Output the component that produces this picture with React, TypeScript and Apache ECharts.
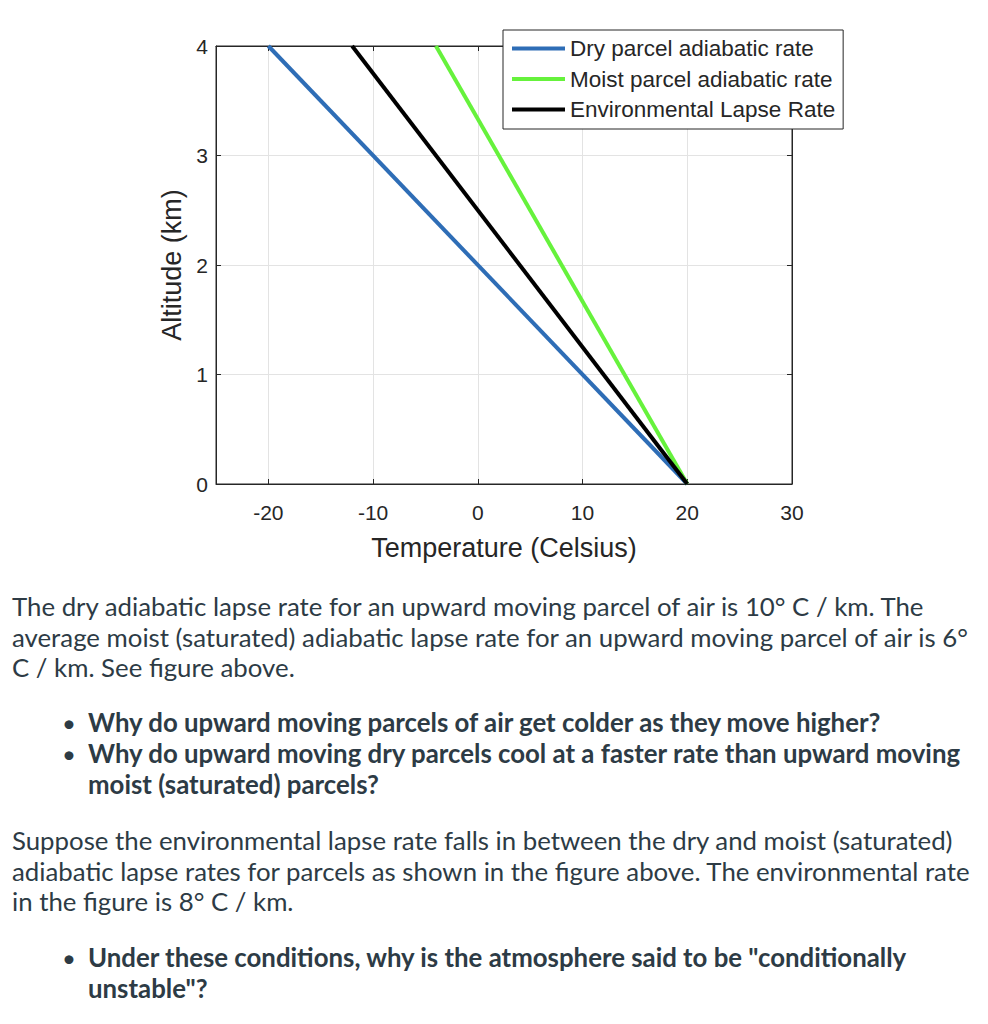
import React, { useEffect, useRef } from "react";
import * as echarts from "echarts";

const altitudesKm = [0, 4];
const dryTemps = [20, -20];
const moistTemps = [20, -4];
const envTemps = [20, -12];
const seriesNames = ["Dry parcel adiabatic rate", "Moist parcel adiabatic rate", "Environmental Lapse Rate"];
const seriesColors = ["#2e6db6", "#66f23c", "#000000"];

const para1 = [
  "The dry adiabatic lapse rate for an upward moving parcel of air is 10° C / km. The",
  "average moist (saturated) adiabatic lapse rate for an upward moving parcel of air is 6°",
  "C / km. See figure above.",
];
const bullets1 = [
  ["Why do upward moving parcels of air get colder as they move higher?"],
  ["Why do upward moving dry parcels cool at a faster rate than upward moving", "moist (saturated) parcels?"],
];
const para2 = [
  "Suppose the environmental lapse rate falls in between the dry and moist (saturated)",
  "adiabatic lapse rates for parcels as shown in the figure above. The environmental rate",
  "in the figure is 8° C / km.",
];
const bullets2 = [["Under these conditions, why is the atmosphere said to be \"conditionally", "unstable\"?"]];

const TEXT_COLOR = "#2d3b45";
const FONT = "Lato";
const FS = 25.8;

function buildText(): any[] {
  const els: any[] = [];
  const addLine = (txt: string, x: number, y: number, bold: boolean, fs: number = FS) => {
    els.push({
      type: "text",
      x,
      y,
      style: {
        text: txt,
        fontFamily: FONT,
        fontSize: fs,
        fontWeight: bold ? "bold" : "normal",
        fill: TEXT_COLOR,
        verticalAlign: "middle",
        align: "left",
      },
    });
  };
  para1.forEach((t, i) => addLine(t, 12, 606 + i * 30.5, false));
  let y = 722;
  bullets1.forEach((b) => {
    addLine("•", 62, y, false, 24);
    b.forEach((t) => {
      addLine(t, 88, y, true);
      y += 31;
    });
  });
  para2.forEach((t, i) => addLine(t, 12, 840 + i * 30.5, false));
  y = 957;
  bullets2.forEach((b) => {
    addLine("•", 62, y, false, 24);
    b.forEach((t) => {
      addLine(t, 88, y, true);
      y += 31;
    });
  });
  return els;
}

export default function App() {
  const ref = useRef<HTMLDivElement>(null);
  useEffect(() => {
    if (!ref.current) return;
    const chart = echarts.init(ref.current, null, { renderer: "svg" });
    const axisColor = "#262626";
    const labelFont = { fontFamily: "Liberation Sans", fontSize: 21, color: axisColor };
    const titleFont = { fontFamily: "Liberation Sans", fontSize: 27, color: axisColor };
    const series = [dryTemps, moistTemps, envTemps].map((temps, si) => ({
      name: seriesNames[si],
      type: "line",
      showSymbol: false,
      data: altitudesKm.map((a, i) => [temps[i], a]),
      lineStyle: { width: 4, color: seriesColors[si] },
      itemStyle: { color: seriesColors[si] },
      z: 3 + si,
    }));
    chart.setOption({
      animation: false,
      backgroundColor: "#ffffff",
      grid: {
        left: 216,
        top: 46,
        width: 576,
        height: 438,
        show: true,
        borderColor: axisColor,
        borderWidth: 1,
        backgroundColor: "transparent",
      },
      legend: {
        orient: "vertical",
        left: 503,
        top: 30,
        backgroundColor: "#ffffff",
        borderColor: axisColor,
        borderWidth: 1,
        padding: [7, 8, 8, 9],
        icon: "rect",
        itemWidth: 53,
        itemHeight: 4,
        itemGap: 7.5,
        itemTextGap: 5,
        textStyle: { fontFamily: "Liberation Sans", fontSize: 22.5, color: axisColor, lineHeight: 22 },
        data: seriesNames,
        z: 10,
      },
      xAxis: [
        {
          type: "value",
          min: -25,
          max: 30,
          splitNumber: 5,
          name: "Temperature (Celsius)",
          nameLocation: "middle",
          nameGap: 50,
          nameTextStyle: titleFont,
          axisLine: { show: true, onZero: false, lineStyle: { color: axisColor, width: 1 } },
          axisTick: { show: true, inside: true, length: 5, lineStyle: { color: axisColor } },
          axisLabel: { ...labelFont, margin: 18, showMinLabel: false },
          splitLine: { show: true, lineStyle: { color: "#e3e3e3", width: 1 } },
        },
        {
          type: "value",
          position: "top",
          min: -25,
          max: 30,
          splitNumber: 5,
          axisLine: { show: true, onZero: false, lineStyle: { color: axisColor, width: 1 } },
          axisTick: { show: true, inside: true, length: 5, lineStyle: { color: axisColor } },
          axisLabel: { show: false },
          splitLine: { show: false },
        },
      ],
      yAxis: [
        {
          type: "value",
          min: 0,
          max: 4,
          interval: 1,
          name: "Altitude (km)",
          nameLocation: "middle",
          nameGap: 30,
          nameTextStyle: titleFont,
          axisLine: { show: true, onZero: false, lineStyle: { color: axisColor, width: 1 } },
          axisTick: { show: true, inside: true, length: 5, lineStyle: { color: axisColor } },
          axisLabel: { ...labelFont, margin: 8 },
          splitLine: { show: true, lineStyle: { color: "#e3e3e3", width: 1 } },
        },
        {
          type: "value",
          position: "right",
          min: 0,
          max: 4,
          interval: 1,
          axisLine: { show: true, onZero: false, lineStyle: { color: axisColor, width: 1 } },
          axisTick: { show: true, inside: true, length: 5, lineStyle: { color: axisColor } },
          axisLabel: { show: false },
          splitLine: { show: false },
        },
      ],
      series,
      graphic: buildText(),
    });
    return () => chart.dispose();
  }, []);
  return (
    <div
      ref={ref}
      style={{ position: "absolute", left: 0, top: 0, width: 988, height: 1024, background: "#fff" }}
    />
  );
}
